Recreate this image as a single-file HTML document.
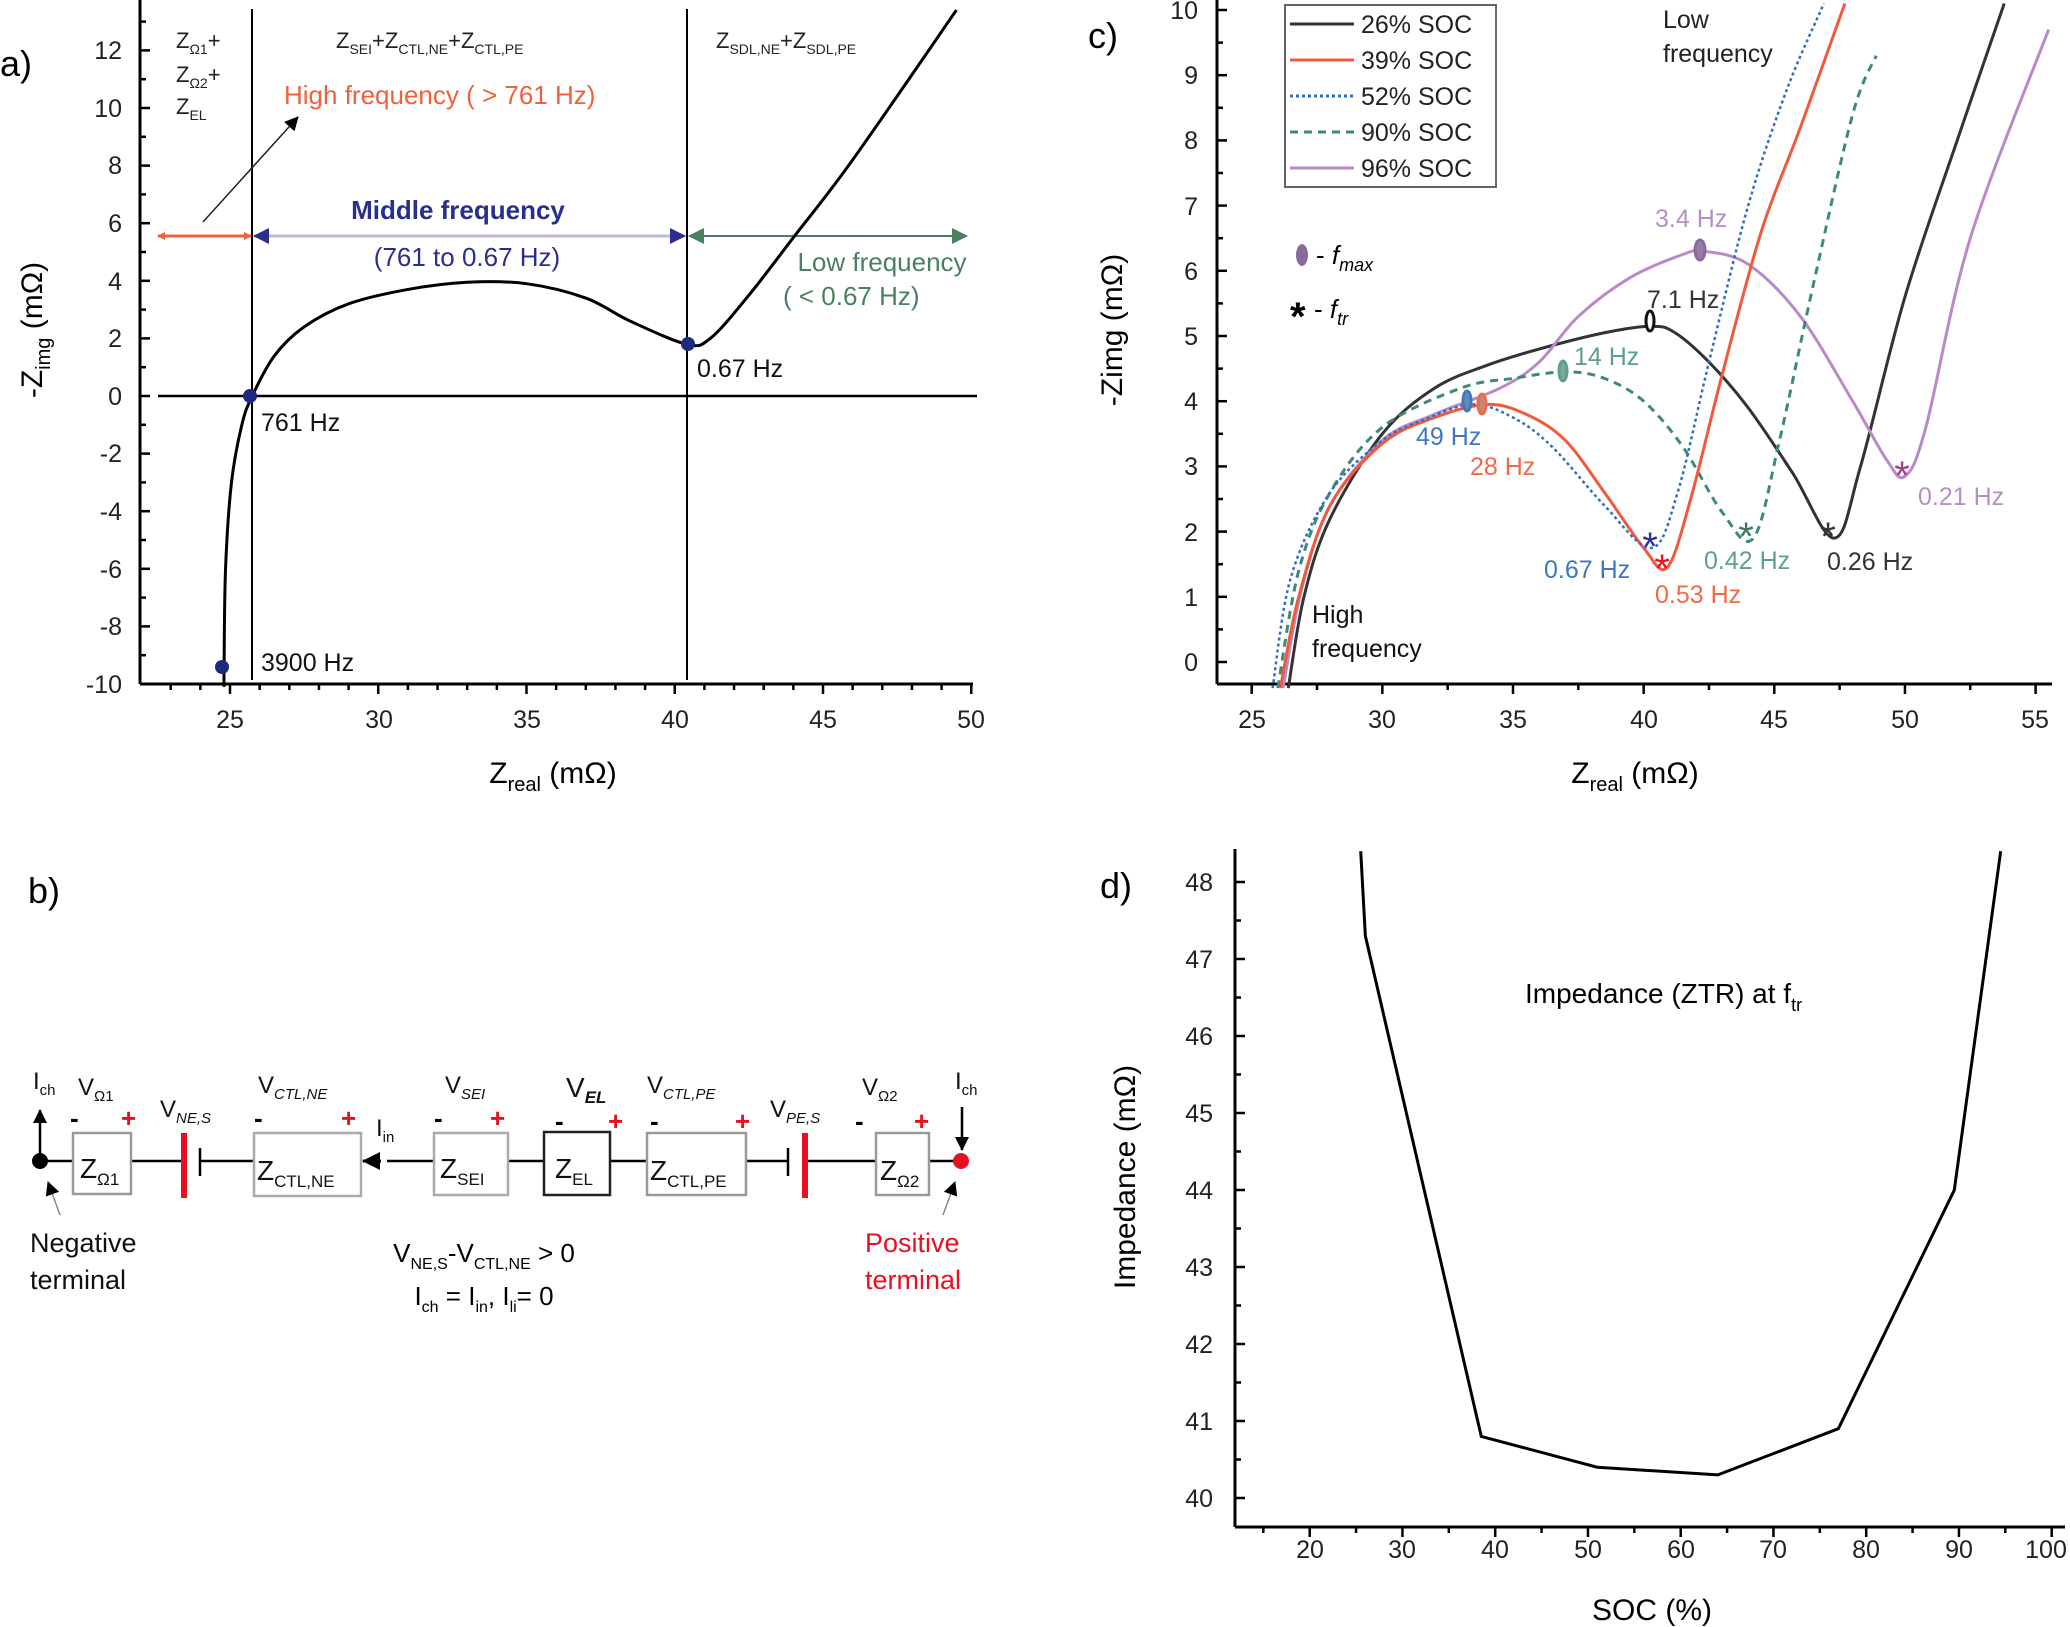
<!DOCTYPE html>
<html><head><meta charset="utf-8"><style>
html,body{margin:0;padding:0;background:#fff}
svg{display:block}
text{font-family:"Liberation Sans",sans-serif}
</style></head><body>
<svg id="s" width="2070" height="1627" viewBox="0 0 2070 1627" xmlns="http://www.w3.org/2000/svg">
<defs>
<marker id="aO" markerWidth="8" markerHeight="8" refX="7" refY="4" orient="auto-start-reverse" markerUnits="userSpaceOnUse"><path d="M0,0 L8,4 L0,8z" fill="#f0603c"/></marker>
<marker id="aB" markerWidth="16" markerHeight="16" refX="15" refY="8" orient="auto-start-reverse" markerUnits="userSpaceOnUse"><path d="M0,0 L16,8 L0,16z" fill="#2a2f8c"/></marker>
<marker id="aG" markerWidth="16" markerHeight="16" refX="15" refY="8" orient="auto-start-reverse" markerUnits="userSpaceOnUse"><path d="M0,0 L16,8 L0,16z" fill="#4a8060"/></marker>
<marker id="aK" markerWidth="14" markerHeight="14" refX="13" refY="7" orient="auto" markerUnits="userSpaceOnUse"><path d="M0,0 L14,7 L0,14z" fill="#000"/></marker>
<marker id="aR" markerWidth="18" markerHeight="18" refX="17" refY="9" orient="auto" markerUnits="userSpaceOnUse"><path d="M0,0 L18,9 L0,18z" fill="#000"/></marker>
</defs>
<g id="ticks" stroke="#000" stroke-width="2.5"></g>

<!-- ============ Panel a ============ -->
<text x="0" y="76" font-size="36">a)</text>
<line x1="140" y1="0" x2="140" y2="684" stroke="#000" stroke-width="3"/>
<line x1="140" y1="684" x2="973" y2="684" stroke="#000" stroke-width="3"/>
<line x1="158" y1="396" x2="977" y2="396" stroke="#000" stroke-width="2.5"/>
<line x1="252" y1="9" x2="252" y2="680" stroke="#000" stroke-width="2"/>
<line x1="687" y1="9" x2="687" y2="680" stroke="#000" stroke-width="2"/>
<g font-size="25" text-anchor="end" fill="#222">
<text x="122" y="59">12</text><text x="122" y="117">10</text><text x="122" y="174">8</text><text x="122" y="232">6</text><text x="122" y="290">4</text><text x="122" y="347">2</text><text x="122" y="405">0</text><text x="122" y="462">-2</text><text x="122" y="520">-4</text><text x="122" y="578">-6</text><text x="122" y="635">-8</text><text x="122" y="693">-10</text>
</g>
<g font-size="25" text-anchor="middle" fill="#222">
<text x="230" y="728">25</text><text x="379" y="728">30</text><text x="527" y="728">35</text><text x="675" y="728">40</text><text x="823" y="728">45</text><text x="971" y="728">50</text>
</g>
<text x="553" y="783" font-size="30" text-anchor="middle">Z<tspan font-size="20" dy="8">real</tspan><tspan dy="-8"> (mΩ)</tspan></text>
<text transform="translate(42,330) rotate(-90)" font-size="30" text-anchor="middle">-Z<tspan font-size="20" dy="8">img</tspan><tspan dy="-8"> (mΩ)</tspan></text>
<g font-size="22" fill="#222">
<text x="176" y="48">Z<tspan font-size="14" dy="6">Ω1</tspan><tspan dy="-6">+</tspan></text>
<text x="176" y="82">Z<tspan font-size="14" dy="6">Ω2</tspan><tspan dy="-6">+</tspan></text>
<text x="176" y="114">Z<tspan font-size="14" dy="6">EL</tspan></text>
<text x="336" y="48">Z<tspan font-size="14" dy="6">SEI</tspan><tspan dy="-6">+Z</tspan><tspan font-size="14" dy="6">CTL,NE</tspan><tspan dy="-6">+Z</tspan><tspan font-size="14" dy="6">CTL,PE</tspan></text>
<text x="716" y="48">Z<tspan font-size="14" dy="6">SDL,NE</tspan><tspan dy="-6">+Z</tspan><tspan font-size="14" dy="6">SDL,PE</tspan></text>
</g>
<text x="284" y="104" font-size="26" fill="#f0603c">High frequency ( &gt; 761 Hz)</text>
<line x1="203" y1="222" x2="298" y2="117" stroke="#222" stroke-width="1.5" marker-end="url(#aK)"/>
<line x1="158" y1="236" x2="251" y2="236" stroke="#f0603c" stroke-width="3" marker-start="url(#aO)" marker-end="url(#aO)"/>
<line x1="254" y1="236" x2="685" y2="236" stroke="#b8bbe0" stroke-width="3" marker-start="url(#aB)" marker-end="url(#aB)"/>
<line x1="689" y1="236" x2="967" y2="236" stroke="#4a8060" stroke-width="2" marker-start="url(#aG)" marker-end="url(#aG)"/>
<text x="458" y="219" font-size="26" font-weight="bold" fill="#2a2f8c" text-anchor="middle">Middle frequency</text>
<text x="467" y="266" font-size="26" fill="#2a2f8c" text-anchor="middle">(761 to 0.67 Hz)</text>
<text x="882" y="271" font-size="26" fill="#4a8060" text-anchor="middle">Low frequency</text>
<text x="783" y="305" font-size="26" fill="#4a8060">( &lt; 0.67 Hz)</text>
<path id="ca" fill="none" stroke="#000" stroke-width="3"/>
<circle cx="250" cy="396" r="7" fill="#1e2a80"/>
<circle cx="688" cy="344" r="7" fill="#1e2a80"/>
<circle cx="222" cy="667" r="7" fill="#1e2a80"/>
<g font-size="25" fill="#111">
<text x="697" y="377">0.67 Hz</text><text x="261" y="431">761 Hz</text><text x="261" y="671">3900 Hz</text>
</g>

<!-- ============ Panel c ============ -->
<text x="1088" y="48" font-size="36">c)</text>
<line x1="1217" y1="0" x2="1217" y2="684" stroke="#000" stroke-width="3"/>
<line x1="1217" y1="684" x2="2052" y2="684" stroke="#000" stroke-width="3"/>
<g font-size="25" text-anchor="end" fill="#222">
<text x="1198" y="671">0</text><text x="1198" y="606">1</text><text x="1198" y="541">2</text><text x="1198" y="475">3</text><text x="1198" y="410">4</text><text x="1198" y="345">5</text><text x="1198" y="280">6</text><text x="1198" y="215">7</text><text x="1198" y="149">8</text><text x="1198" y="84">9</text><text x="1198" y="19">10</text>
</g>
<g font-size="25" text-anchor="middle" fill="#222">
<text x="1252" y="728">25</text><text x="1382" y="728">30</text><text x="1513" y="728">35</text><text x="1644" y="728">40</text><text x="1774" y="728">45</text><text x="1905" y="728">50</text><text x="2035" y="728">55</text>
</g>
<text x="1635" y="783" font-size="30" text-anchor="middle">Z<tspan font-size="20" dy="8">real</tspan><tspan dy="-8"> (mΩ)</tspan></text>
<text transform="translate(1122,330) rotate(-90)" font-size="30" text-anchor="middle">-Zimg (mΩ)</text>
<path id="c26" fill="none" stroke="#333" stroke-width="3"/>
<path id="c96" fill="none" stroke="#b98ac6" stroke-width="3"/>
<path id="c90" fill="none" stroke="#3d8a78" stroke-width="3" stroke-dasharray="8,6"/>
<path id="c39" fill="none" stroke="#f05a3c" stroke-width="3"/>
<path id="c52" fill="none" stroke="#2f6fc0" stroke-width="2.5" stroke-dasharray="3,3"/>
<rect x="1285" y="5" width="211" height="182" fill="#fff" stroke="#666" stroke-width="2"/>
<g stroke-width="3">
<line x1="1290" y1="24" x2="1354" y2="24" stroke="#333"/>
<line x1="1290" y1="60" x2="1354" y2="60" stroke="#f05a3c"/>
<line x1="1290" y1="96" x2="1354" y2="96" stroke="#2f6fc0" stroke-dasharray="3,3"/>
<line x1="1290" y1="132" x2="1354" y2="132" stroke="#3d8a78" stroke-dasharray="8,6"/>
<line x1="1290" y1="168" x2="1354" y2="168" stroke="#b98ac6"/>
</g>
<g font-size="25" fill="#222">
<text x="1361" y="33">26% SOC</text><text x="1361" y="69">39% SOC</text><text x="1361" y="105">52% SOC</text><text x="1361" y="141">90% SOC</text><text x="1361" y="177">96% SOC</text>
</g>
<text x="1663" y="28" font-size="25" fill="#222">Low</text>
<text x="1663" y="62" font-size="25" fill="#222">frequency</text>
<text x="1312" y="623" font-size="25" fill="#111">High</text>
<text x="1312" y="657" font-size="25" fill="#111">frequency</text>
<ellipse cx="1302" cy="255" rx="6" ry="11" fill="#8a6a9a"/>
<text x="1316" y="264" font-size="26">- <tspan font-style="italic">f</tspan><tspan font-style="italic" font-size="18" dy="7">max</tspan></text>
<text x="1290" y="330" font-size="40" font-weight="bold">*</text>
<text x="1314" y="318" font-size="26">- <tspan font-style="italic">f</tspan><tspan font-style="italic" font-size="18" dy="7">tr</tspan></text>
<g stroke-width="3" fill="#fff">
<ellipse cx="1650" cy="321" rx="4" ry="10" stroke="#111"/>
<ellipse cx="1700" cy="250" rx="5" ry="10" stroke="#8a6a9a" fill="#9a7aaa"/>
<ellipse cx="1563" cy="371" rx="4" ry="10" stroke="#5e9e8f" fill="#7aaa9a"/>
<ellipse cx="1467" cy="401" rx="4" ry="10" stroke="#3f78c0" fill="#6a8ab0"/>
<ellipse cx="1482" cy="404" rx="4" ry="10" stroke="#f06a4a" fill="#c08a7a"/>
</g>
<g font-size="40" text-anchor="middle">
<text x="1650" y="560" fill="#2a2f9c">*</text>
<text x="1662" y="582" fill="#f01020">*</text>
<text x="1746" y="550" fill="#3d7a5a">*</text>
<text x="1828" y="550" fill="#333">*</text>
<text x="1902" y="489" fill="#a0408a">*</text>
</g>
<g font-size="25">
<text x="1655" y="227" fill="#b58fc5">3.4 Hz</text>
<text x="1647" y="308" fill="#333">7.1 Hz</text>
<text x="1574" y="365" fill="#5e9e8f">14 Hz</text>
<text x="1416" y="445" fill="#3f78c0">49 Hz</text>
<text x="1470" y="475" fill="#f06a4a">28 Hz</text>
<text x="1544" y="578" fill="#3f78c0">0.67 Hz</text>
<text x="1655" y="603" fill="#f06a4a">0.53 Hz</text>
<text x="1704" y="569" fill="#5e9e8f">0.42 Hz</text>
<text x="1827" y="570" fill="#333">0.26 Hz</text>
<text x="1918" y="505" fill="#b58fc5">0.21 Hz</text>
</g>

<!-- ============ Panel b ============ -->
<text x="28" y="903" font-size="36">b)</text>
<g stroke="#000" stroke-width="2.5" fill="none">
<line x1="40" y1="1161" x2="73" y2="1161"/><line x1="131" y1="1161" x2="184" y2="1161"/>
<line x1="200" y1="1161" x2="254" y2="1161"/><line x1="387" y1="1161" x2="434" y2="1161"/>
<line x1="508" y1="1161" x2="544" y2="1161"/><line x1="610" y1="1161" x2="647" y2="1161"/>
<line x1="746" y1="1161" x2="788" y2="1161"/><line x1="805" y1="1161" x2="876" y2="1161"/>
<line x1="929" y1="1161" x2="960" y2="1161"/>
<line x1="200" y1="1148" x2="200" y2="1176"/><line x1="788" y1="1148" x2="788" y2="1176"/>
</g>
<line x1="381" y1="1161" x2="363" y2="1161" stroke="#000" stroke-width="3" marker-end="url(#aR)"/>
<g fill="#fff" stroke-width="2.5">
<rect x="73" y="1133" width="58" height="61" stroke="#999"/>
<rect x="254" y="1133" width="107" height="63" stroke="#aaa"/>
<rect x="434" y="1133" width="74" height="62" stroke="#aaa"/>
<rect x="544" y="1132" width="66" height="63" stroke="#222"/>
<rect x="647" y="1133" width="99" height="62" stroke="#999"/>
<rect x="876" y="1133" width="53" height="62" stroke="#999"/>
</g>
<rect x="181" y="1133" width="6" height="65" fill="#e81020"/>
<rect x="802" y="1133" width="6" height="65" fill="#e81020"/>
<circle cx="40" cy="1161" r="8" fill="#000"/>
<circle cx="961" cy="1161" r="8" fill="#e81020"/>
<line x1="40" y1="1158" x2="40" y2="1110" stroke="#000" stroke-width="2.5" marker-end="url(#aK)"/>
<line x1="962" y1="1107" x2="962" y2="1150" stroke="#000" stroke-width="2.5" marker-end="url(#aK)"/>
<g font-size="28" fill="#111">
<text x="80" y="1178">Z<tspan font-size="17" dy="7">Ω1</tspan></text>
<text x="257" y="1180">Z<tspan font-size="17" dy="7">CTL,NE</tspan></text>
<text x="440" y="1178">Z<tspan font-size="17" dy="7">SEI</tspan></text>
<text x="555" y="1178">Z<tspan font-size="17" dy="7">EL</tspan></text>
<text x="650" y="1180">Z<tspan font-size="17" dy="7">CTL,PE</tspan></text>
<text x="880" y="1180">Z<tspan font-size="17" dy="7">Ω2</tspan></text>
</g>
<g font-size="24" fill="#111">
<text x="33" y="1089">I<tspan font-size="15" dy="6">ch</tspan></text>
<text x="955" y="1089">I<tspan font-size="15" dy="6">ch</tspan></text>
<text x="78" y="1095">V<tspan font-size="15" dy="6">Ω1</tspan></text>
<text x="160" y="1117">V<tspan font-size="15" dy="6" font-style="italic">NE,S</tspan></text>
<text x="258" y="1093">V<tspan font-size="15" dy="6" font-style="italic">CTL,NE</tspan></text>
<text x="376" y="1136">I<tspan font-size="15" dy="6">in</tspan></text>
<text x="445" y="1093">V<tspan font-size="15" dy="6" font-style="italic">SEI</tspan></text>
<text x="566" y="1097" font-size="28">V<tspan font-size="17" dy="6" font-style="italic" font-weight="bold">EL</tspan></text>
<text x="647" y="1093">V<tspan font-size="15" dy="6" font-style="italic">CTL,PE</tspan></text>
<text x="770" y="1117">V<tspan font-size="15" dy="6" font-style="italic">PE,S</tspan></text>
<text x="862" y="1095">V<tspan font-size="15" dy="6">Ω2</tspan></text>
</g>
<g font-size="26" font-weight="bold">
<text x="70" y="1127">-</text><text x="121" y="1127" fill="#e81020">+</text>
<text x="254" y="1127">-</text><text x="341" y="1127" fill="#e81020">+</text>
<text x="434" y="1127">-</text><text x="490" y="1127" fill="#e81020">+</text>
<text x="555" y="1130">-</text><text x="608" y="1130" fill="#e81020">+</text>
<text x="650" y="1130">-</text><text x="735" y="1130" fill="#e81020">+</text>
<text x="855" y="1130">-</text><text x="914" y="1130" fill="#e81020">+</text>
</g>
<line x1="60" y1="1215" x2="48" y2="1182" stroke="#888" stroke-width="1.5" marker-end="url(#aK)"/>
<line x1="943" y1="1215" x2="955" y2="1182" stroke="#888" stroke-width="1.5" marker-end="url(#aK)"/>
<g font-size="27">
<text x="30" y="1252" fill="#111">Negative</text><text x="30" y="1289" fill="#111">terminal</text>
<text x="865" y="1252" fill="#e81020">Positive</text><text x="865" y="1289" fill="#e81020">terminal</text>
</g>
<text x="484" y="1262" font-size="26" text-anchor="middle">V<tspan font-size="16" dy="7">NE,S</tspan><tspan dy="-7">-V</tspan><tspan font-size="16" dy="7">CTL,NE</tspan><tspan dy="-7"> &gt; 0</tspan></text>
<text x="484" y="1305" font-size="26" text-anchor="middle">I<tspan font-size="16" dy="7">ch</tspan><tspan dy="-7"> = I</tspan><tspan font-size="16" dy="7">in</tspan><tspan dy="-7">, I</tspan><tspan font-size="16" dy="7">li</tspan><tspan dy="-7">= 0</tspan></text>

<!-- ============ Panel d ============ -->
<text x="1100" y="898" font-size="36">d)</text>
<line x1="1235" y1="849" x2="1235" y2="1527" stroke="#000" stroke-width="3"/>
<line x1="1235" y1="1527" x2="2065" y2="1527" stroke="#000" stroke-width="3"/>
<g font-size="25" text-anchor="end" fill="#222">
<text x="1213" y="891">48</text><text x="1213" y="968">47</text><text x="1213" y="1045">46</text><text x="1213" y="1122">45</text><text x="1213" y="1199">44</text><text x="1213" y="1276">43</text><text x="1213" y="1353">42</text><text x="1213" y="1430">41</text><text x="1213" y="1507">40</text>
</g>
<g font-size="25" text-anchor="middle" fill="#222">
<text x="1310" y="1558">20</text><text x="1402" y="1558">30</text><text x="1495" y="1558">40</text><text x="1588" y="1558">50</text><text x="1681" y="1558">60</text><text x="1773" y="1558">70</text><text x="1866" y="1558">80</text><text x="1959" y="1558">90</text><text x="2046" y="1558">100</text>
</g>
<text x="1652" y="1620" font-size="30" text-anchor="middle">SOC (%)</text>
<text transform="translate(1135,1177) rotate(-90)" font-size="30" text-anchor="middle">Impedance (mΩ)</text>
<text x="1525" y="1003" font-size="28">Impedance (ZTR) at f<tspan font-size="18" dy="8">tr</tspan></text>
<path id="cd" fill="none" stroke="#000" stroke-width="3"/>
</svg>
<script>
function sm(p){var d="M"+p[0][0].toFixed(1)+","+p[0][1].toFixed(1);for(var i=0;i<p.length-1;i++){var a=p[i-1]||p[i],b=p[i],c=p[i+1],e=p[i+2]||c;var c1=[b[0]+(c[0]-a[0])/6,b[1]+(c[1]-a[1])/6],c2=[c[0]-(e[0]-b[0])/6,c[1]-(e[1]-b[1])/6];d+=" C"+c1.join(",")+" "+c2.join(",")+" "+c.join(",");}return d;}
function A(v){return v.map(function(q){return[230+(q[0]-25)*29.65,396-q[1]*28.8];});}
function C(v){return v.map(function(q){return[1251.7+(q[0]-25)*26.13,662-q[1]*65.2];});}
function D(v){return v.map(function(q){return[1309.7+(q[0]-20)*9.275,1498-(q[1]-40)*77];});}
document.getElementById("ca").setAttribute("d",sm(A([[24.8,-10.1],[24.8,-9.4],[24.85,-6],[25.05,-3],[25.4,-1],[25.75,0],[26.5,1.4],[27.5,2.4],[29,3.2],[31,3.7],[33,3.95],[35,3.9],[37,3.4],[38.5,2.6],[40.4,1.8],[41.2,2.0],[42.5,3.5],[44,5.5],[46,8.2],[49.5,13.4]])));
document.getElementById("c26").setAttribute("d",sm(C([[26.4,-0.4],[27,1],[28,2.2],[30,3.5],[32,4.2],[34,4.55],[36,4.8],[38.5,5.05],[40.3,5.15],[41.2,5.05],[42.5,4.6],[44,3.9],[45.7,2.9],[47.3,1.9],[48.3,3.0],[50,5.6],[52,8.0],[53.8,10.1]])));
document.getElementById("c39").setAttribute("d",sm(C([[26.1,-0.4],[26.8,1],[28,2.4],[30,3.35],[32,3.75],[34,3.95],[35.5,3.8],[37,3.4],[38.5,2.6],[40,1.75],[40.9,1.45],[41.8,2.5],[43,4.4],[44.5,6.6],[46,8.2],[47.7,10.1]])));
document.getElementById("c52").setAttribute("d",sm(C([[25.8,-0.4],[26.5,1.3],[28,2.6],[30,3.4],[31.5,3.7],[33.4,3.95],[35,3.75],[36.5,3.3],[38.5,2.4],[40.3,1.75],[41.3,2.6],[42.5,4.6],[44,7.0],[45.5,8.8],[46.9,10.1]])));
document.getElementById("c90").setAttribute("d",sm(C([[26,-0.4],[26.8,1.4],[28,2.6],[30,3.6],[33,4.2],[35,4.35],[37,4.45],[38.5,4.35],[40,4.0],[41.5,3.3],[43,2.3],[44.2,1.9],[45.2,3.4],[46.5,5.8],[48,8.4],[48.9,9.3]])));
document.getElementById("c96").setAttribute("d",sm(C([[26.2,-0.4],[26.9,1.1],[28,2.4],[30,3.4],[32,3.8],[34.5,4.2],[36,4.6],[37.5,5.3],[39.5,5.9],[41.5,6.25],[42.3,6.3],[44,6.1],[46,5.3],[48,4.0],[49.3,3.1],[50,2.85],[50.8,3.6],[52.5,6.5],[55.5,9.7]])));
document.getElementById("cd").setAttribute("d","M"+D([[25.5,48.4],[26,47.3],[38.5,40.8],[51,40.4],[64,40.3],[77,40.9],[89.5,44],[94.5,48.4]]).map(function(p){return p.join(",")}).join(" L"));
var NS="http://www.w3.org/2000/svg",g=document.getElementById("ticks");
function L(x1,y1,x2,y2){var l=document.createElementNS(NS,"line");l.setAttribute("x1",x1);l.setAttribute("y1",y1);l.setAttribute("x2",x2);l.setAttribute("y2",y2);g.appendChild(l);}
var i,y,x;
for(i=-10;i<=13;i++){y=396-i*28.8;L(140,y,140+(i%2==0?10:6),y);}
for(i=23;i<=50;i++){x=230+(i-25)*29.65;L(x,684,x,684+(i%5==0?10:6));}
for(i=0;i<=20;i++){y=662-i*32.6;L(1217,y,1217+(i%2==0?10:6),y);}
for(i=50;i<=111;i+=5){x=1251.7+(i/2-25)*26.13;L(x,684,x,684+(i%10==0?10:6));}
for(i=80;i<=96;i++){y=1498-(i/2-40)*77;L(1235,y,1235+(i%2==0?10:6),y);}
for(i=15;i<=100;i+=5){x=1309.7+(i-20)*9.275;L(x,1527,x,1527+(i%10==0?10:6));}
</script>
</body></html>
